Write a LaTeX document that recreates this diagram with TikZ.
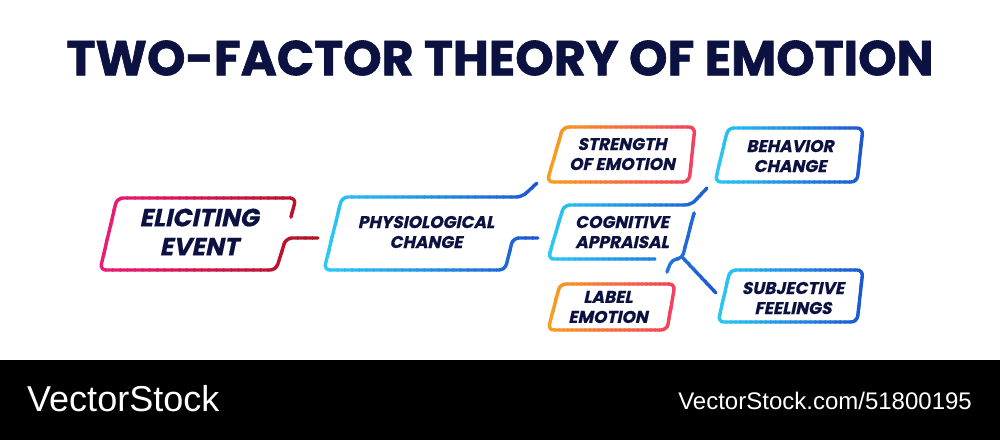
\documentclass[tikz,border=0pt]{standalone}
\usepackage{fontspec}
\setmainfont{Poppins}
\newfontfamily\boxfont{Poppins}[BoldFeatures={FakeSlant=0.21, FakeBold=0.6}]
\newfontfamily\titlefont{Poppins}[BoldFeatures={FakeBold=1.2}]
\newfontfamily\markfont{Liberation Sans}

\definecolor{navy}{HTML}{0B1140}
\definecolor{pinkL}{HTML}{EC1B78}
\definecolor{redR}{HTML}{B01220}
\definecolor{cyanL}{HTML}{2BCBF5}
\definecolor{blueR}{HTML}{1D56D1}
\definecolor{orangeL}{HTML}{F8A21C}
\definecolor{roseR}{HTML}{F33F5F}

\tikzset{
  outline/.style={line width=3.4pt, rounded corners=6pt, line cap=round, line join=round},
  boxtext/.style={text=navy, align=center, inner sep=0pt, font=\boxfont\bfseries\fontsize{17}{20}\selectfont},
}

% outline drawn in thin vertical strips, colour mixed from left to right
\newcommand{\gradline}[5]{%
  \foreach \k in {0,...,29}{%
    \pgfmathsetmacro{\stripL}{#3+(#4-#3)*\k/30-0.6}%
    \pgfmathsetmacro{\stripR}{#3+(#4-#3)*(\k+1)/30+0.6}%
    \pgfmathtruncatemacro{\mixpc}{100-100*(\k+0.5)/30}%
    \begin{scope}
      \clip (\stripL,0) rectangle (\stripR,440);
      \draw[outline, draw=#1!\mixpc!#2] #5;
    \end{scope}
  }%
}

\begin{document}
\begin{tikzpicture}[x=1pt,y=-1pt]
  \fill[white] (0,0) rectangle (1000,440);
  \useasboundingbox (0,0) rectangle (1000,440);

  \node[text=navy, inner sep=0pt, font=\titlefont\bfseries\fontsize{49}{50}\selectfont] (title) at (500,58) {TWO-FACTOR THEORY OF EMOTION};

  % boxes and their connectors
  \gradline{pinkL}{redR}{98}{320}{(291,217) -- (296,198) -- (117,198) -- (100,270) -- (276,270) -- (286,238) -- (318,238)}
  \gradline{cyanL}{blueR}{323}{540}{(537,183) -- (522,197) -- (342,197) -- (324,270) -- (505,270) -- (513,238) -- (538,238)}
  \gradline{orangeL}{roseR}{545}{697}{(563,127) -- (695,127) -- (689,182) -- (547,182) -- cycle}
  \gradline{cyanL}{blueR}{546}{718}{(707,188) -- (691,205) -- (564,205) -- (548,259) -- (655,259)}
  \gradline{cyanL}{blueR}{546}{718}{(694,213) -- (682,259) -- (672,259) -- (667,272)}
  \gradline{cyanL}{blueR}{546}{718}{(683,258) -- (716,293)}
  \gradline{orangeL}{roseR}{546}{677}{(560,284) -- (675,284) -- (667,330) -- (548,330) -- cycle}
  \gradline{cyanL}{blueR}{713}{865}{(728,128) -- (863,128) -- (857,182) -- (715,182) -- cycle}
  \gradline{cyanL}{blueR}{716}{865}{(730,270) -- (863,270) -- (857,322) -- (718,322) -- cycle}

  % labels
  \node[boxtext, font=\boxfont\bfseries\fontsize{25}{29}\selectfont] (elicit) at (199,232) {ELICITING\\EVENT};
  \node[boxtext] (physio) at (426,232) {PHYSIOLOGICAL\\CHANGE};
  \node[boxtext] (strength) at (622,154) {STRENGTH\\OF EMOTION};
  \node[boxtext] (cognit) at (622,232) {COGNITIVE\\APPRAISAL};
  \node[boxtext] (label) at (608,307) {LABEL\\EMOTION};
  \node[boxtext] (behav) at (790,156) {BEHAVIOR\\CHANGE};
  \node[boxtext] (subject) at (793,298) {SUBJECTIVE\\FEELINGS};

  % footer bar
  \fill[black] (0,360) rectangle (1000,440);
  \node[anchor=west, text=white, inner sep=0pt, font=\markfont\fontsize{36}{38}\selectfont] (stock) at (27,399) {VectorStock};
  \node[anchor=east, text=white, inner sep=0pt, font=\markfont\fontsize{24}{26}\selectfont] (stockurl) at (972,401) {VectorStock.com/51800195};
\end{tikzpicture}
\end{document}
